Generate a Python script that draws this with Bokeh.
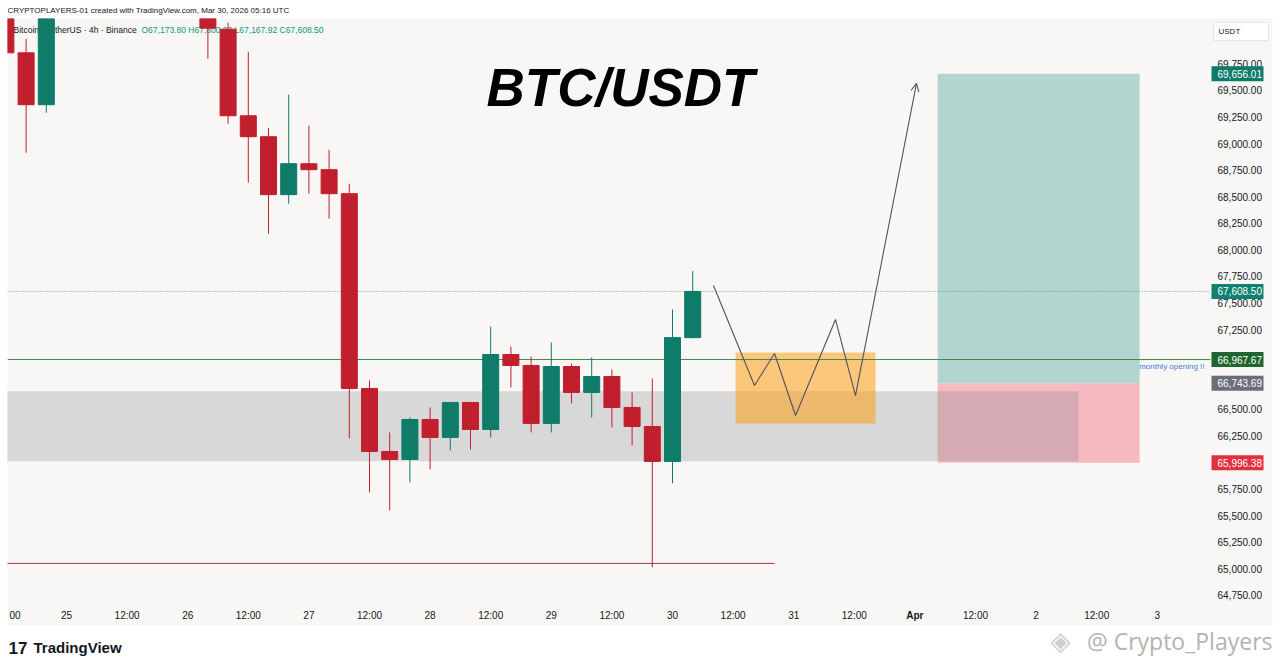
import pandas as pd
from bokeh.plotting import figure
from bokeh.models import ColumnDataSource, Label, Arrow, OpenHead
from bokeh.core.properties import value
from bokeh.layouts import column
from bokeh.embed import file_html
from bokeh.resources import INLINE

# ---------------- data ----------------
ORIGIN = pd.Timestamp("2026-03-24 00:00")

candle_time = [
    "2026-03-24 12:00", "2026-03-24 16:00", "2026-03-24 20:00",
    "2026-03-26 04:00", "2026-03-26 08:00", "2026-03-26 12:00", "2026-03-26 16:00",
    "2026-03-26 20:00", "2026-03-27 00:00", "2026-03-27 04:00", "2026-03-27 08:00",
    "2026-03-27 12:00", "2026-03-27 16:00", "2026-03-27 20:00", "2026-03-28 00:00",
    "2026-03-28 04:00", "2026-03-28 08:00", "2026-03-28 12:00", "2026-03-28 16:00",
    "2026-03-28 20:00", "2026-03-29 00:00", "2026-03-29 04:00", "2026-03-29 08:00",
    "2026-03-29 12:00", "2026-03-29 16:00", "2026-03-29 20:00", "2026-03-30 00:00",
    "2026-03-30 04:00",
]
open_ = [70350, 69853, 69365,
         70300, 70075, 69261, 69064,
         68519, 68810, 68754, 68528,
         66695, 66103, 66028, 66404,
         66235, 66564, 66310, 67015,
         66912, 66367, 66902, 66658,
         66808, 66517, 66338, 66009,
         67173.80]
high = [70420, 69985, 70400,
        70350, 70136, 69863, 69148,
        69459, 69167, 68942, 68622,
        66771, 66282, 66423, 66517,
        66570, 66570, 67278, 67090,
        66996, 67128, 66930, 66987,
        66874, 66658, 66789, 67438,
        67800]
low = [69840, 68914, 69290,
       69797, 69186, 68632, 68152,
       68434, 68528, 68293, 66226,
       65718, 65549, 65812, 65934,
       66113, 66122, 66235, 66705,
       66282, 66282, 66555, 66423,
       66329, 66160, 65013, 65803,
       67167.92]
close = [69853, 69365, 70300,
         70085, 69261, 69064, 68519,
         68810, 68754, 68528, 66695,
         66103, 66028, 66404, 66235,
         66564, 66310, 67015, 66912,
         66367, 66902, 66658, 66808,
         66517, 66338, 66009, 67174,
         67608.50]

last_price = 67608.50
monthly_open = 66967.67
support_level = 65050
support_end = "2026-03-30 20:12"

zone_low, zone_high = 66012, 66670
zone_start, zone_end = "2026-03-24 00:00", "2026-04-02 08:24"

box_low, box_high = 66367, 67034
box_start, box_end = "2026-03-30 12:30", "2026-03-31 16:12"

pos_target, pos_entry, pos_stop = 69656.01, 66743.69, 65996.38
pos_start, pos_end = "2026-04-01 04:30", "2026-04-02 20:30"

path_time = ["2026-03-30 08:07", "2026-03-30 16:14", "2026-03-30 20:12",
             "2026-03-31 00:22", "2026-03-31 08:17", "2026-03-31 12:14",
             "2026-04-01 00:19"]
path_price = [67664, 66723, 67025, 66441, 67344, 66629, 69565]

y_ticks = [64750, 65000, 65250, 65500, 65750, 66250, 66500,
           67250, 67500, 67750, 68000, 68250, 68500, 68750, 69000,
           69250, 69500, 69750]
x_tick_time = ["2026-03-25 00:00", "2026-03-25 12:00", "2026-03-26 00:00",
               "2026-03-26 12:00", "2026-03-27 00:00", "2026-03-27 12:00",
               "2026-03-28 00:00", "2026-03-28 12:00", "2026-03-29 00:00",
               "2026-03-29 12:00", "2026-03-30 00:00", "2026-03-30 12:00",
               "2026-03-31 00:00", "2026-03-31 12:00", "2026-04-01 00:00",
               "2026-04-01 12:00", "2026-04-02 00:00", "2026-04-02 12:00",
               "2026-04-03 00:00"]
x_tick_label = ["25", "12:00", "26", "12:00", "27", "12:00", "28", "12:00",
                "29", "12:00", "30", "12:00", "31", "12:00", "Apr", "12:00",
                "2", "12:00", "3"]
edge_tick_label = "00"          # remainder of the "12:00" label cut at the left edge

tag_price = [pos_target, last_price, monthly_open, pos_entry, pos_stop]
tag_text = ["69,656.01", "67,608.50", "66,967.67", "66,743.69", "65,996.38"]
tag_color = ["#0c7b69", "#0d8270", "#1e6630", "#6b6e79", "#e3303f"]

# ---------------- styling / helpers ----------------
BG = "#f8f7f5"
UP, DOWN = "#0e7c68", "#c11f2e"
TXT = "#131722"
FONT = "Liberation Sans"
FL, FT = 7, 18                    # frame left / top on the page
FW, FH = 1265, 607                # frame size (chart panel incl. scales)
PXH = 5.05                        # px per hour
H0 = 24 - (66 - FL) / PXH
H1 = H0 + FW / PXH
K = 0.1063                        # px per USDT
Y1 = 70176.0
Y0 = Y1 - FH / K


def hrs(ts):
    return (pd.Timestamp(ts) - ORIGIN).total_seconds() / 3600.0


def hx(px):       # page x pixel -> data x
    return H0 + (px - FL) / PXH


def py(pyx):      # page y pixel -> data y
    return Y1 - (pyx - FT) / K


# ---------------- main chart panel ----------------
p = figure(width=1280, height=FH, frame_width=FW, frame_height=FH,
           x_range=(H0, H1), y_range=(Y0, Y1), x_axis_type=None, y_axis_type=None,
           output_backend="svg", toolbar_location=None,
           min_border_left=FL, min_border_right=1280 - FL - FW, min_border_top=0,
           min_border_bottom=0, background_fill_color=BG,
           border_fill_color="white", outline_line_color=None)
p.grid.visible = False

# position tool
p.quad(left=hrs(pos_start), right=hrs(pos_end), bottom=pos_entry, top=pos_target,
       fill_color="#b3d5cf", line_color=None)
p.quad(left=hrs(pos_start), right=hrs(pos_end), bottom=pos_stop, top=pos_entry,
       fill_color="#f6bac0", line_color=None)
# grey zone
p.quad(left=hrs(zone_start), right=hrs(zone_end), bottom=zone_low, top=zone_high,
       fill_color="#787b86", fill_alpha=0.25, line_color=None)
# orange box
p.quad(left=hrs(box_start), right=hrs(box_end), bottom=box_low, top=box_high,
       fill_color="#ff9800", fill_alpha=0.5, line_color=None)
# support line
p.segment(x0=hrs(zone_start), x1=hrs(support_end), y0=support_level, y1=support_level,
          line_color="#a0384a", line_width=1)
# monthly opening + last price lines (stop at the price scale)
p.segment(x0=H0, x1=hx(1210), y0=monthly_open, y1=monthly_open,
          line_color="#3d8a47", line_width=1)
p.segment(x0=H0, x1=hx(1210), y0=last_price, y1=last_price,
          line_color="#0d8270", line_alpha=0.7, line_width=1, line_dash="1 2")

# projected path
ph = [hrs(t) for t in path_time]
p.line(ph, path_price, line_color="#50535e", line_width=1.1)
p.add_layout(Arrow(end=OpenHead(size=8, line_color="#50535e", line_width=1.1),
                   x_start=ph[-2], y_start=path_price[-2], x_end=ph[-1], y_end=path_price[-1],
                   line_alpha=0))

# candles
ct = [hrs(t) for t in candle_time]
src = ColumnDataSource(dict(
    x=ct, o=open_, h=high, l=low, c=close,
    top=[max(a, b) for a, b in zip(open_, close)],
    bot=[min(a, b) for a, b in zip(open_, close)],
    col=[UP if c >= o else DOWN for o, c in zip(open_, close)]))
p.segment(x0="x", x1="x", y0="l", y1="h", line_color="col", line_width=1, source=src)
p.vbar(x="x", width=16 / PXH, top="top", bottom="bot", fill_color="col",
       line_color="col", source=src)

# price scale labels
p.text(x=hx(1217), y=y_ticks, text=[f"{v:,.2f}" for v in y_ticks],
       text_font=value(FONT), text_font_size="10px", text_color=TXT,
       text_align="left", text_baseline="middle")
# price tags
p.rect(x=hx(1237), y=tag_price, width=52, height=15, width_units="screen",
       height_units="screen", fill_color=tag_color, line_color=None)
p.text(x=hx(1217), y=tag_price, text=tag_text, text_font=value(FONT),
       text_font_size="10px", text_color="white", text_align="left",
       text_baseline="middle")
# currency box
p.rect(x=hx(1240.5), y=py(31), width=55, height=18, width_units="screen",
       height_units="screen", fill_color="white", line_color="#e3e5ea")
p.text(x=hx(1218), y=py(31), text=["USDT"], text_font=value(FONT),
       text_font_size="8px", text_color=TXT, text_align="left", text_baseline="middle")

# time scale labels
xt = [hrs(t) for t in x_tick_time]
norm = [(h, t) for h, t in zip(xt, x_tick_label) if t != "Apr"]
bold = [(h, t) for h, t in zip(xt, x_tick_label) if t == "Apr"]
p.text(x=[h for h, _ in norm], y=py(614.5), text=[t for _, t in norm],
       text_font=value(FONT), text_font_size="10px", text_color=TXT,
       text_align="center", text_baseline="middle")
p.text(x=[h for h, _ in bold], y=py(614.5), text=[t for _, t in bold],
       text_font=value(FONT), text_font_style="bold", text_font_size="10px",
       text_color=TXT, text_align="center", text_baseline="middle")
p.text(x=[hx(9)], y=py(614.5), text=[edge_tick_label],
       text_font=value(FONT), text_font_size="10px", text_color=TXT,
       text_align="left", text_baseline="middle")

# legend texts (under candles)
p.add_layout(Label(x=hx(13), y=py(29), text="Bitcoin / TetherUS · 4h · Binance",
                   text_font=FONT, text_font_size="8.5px",
                   text_color=TXT, text_baseline="middle", level="underlay"))
p.add_layout(Label(x=hx(141), y=py(29),
                   text="O67,173.80 H67,800.00 L67,167.92 C67,608.50",
                   text_font=FONT, text_font_size="8.5px",
                   text_color="#089981", text_baseline="middle", level="underlay"))

p.add_layout(Label(x=hx(620), y=py(87), text="BTC/USDT", text_font=FONT,
                   text_font_style="bold italic", text_font_size="53px",
                   text_color="black", text_align="center", text_baseline="middle"))

p.add_layout(Label(x=hx(1204), y=py(366), text="monthly opening !!",
                   text_font=FONT, text_font_size="8px",
                   text_color="#4a78d4", text_align="right", text_baseline="middle"))


# ---------------- header / footer strips (same frame geometry as the panel) ----------------
def strip(h):
    f = figure(width=1280, height=h, frame_width=FW, frame_height=h,
               x_range=(FL, FL + FW), y_range=(0, h),
               x_axis_type=None, y_axis_type=None, output_backend="svg",
               toolbar_location=None, min_border_left=FL,
               min_border_right=1280 - FL - FW, min_border_top=0, min_border_bottom=0,
               background_fill_color="white", border_fill_color="white",
               outline_line_color=None)
    f.grid.visible = False
    return f


hdr = strip(FT)
hdr.add_layout(Label(x=7, y=8, text="CRYPTOPLAYERS-01 created with TradingView.com, Mar 30, 2026 05:16 UTC",
                     text_font=FONT, text_font_size="8px",
                     text_color=TXT, text_baseline="middle"))

FOOT = 668 - FT - FH
ftr = strip(FOOT)
ftr.add_layout(Label(x=8, y=21, text="17", text_font=FONT,
                     text_font_style="bold", text_font_size="17px", text_color=TXT,
                     text_baseline="middle"))
ftr.add_layout(Label(x=33, y=21, text="TradingView", text_font=FONT,
                     text_font_style="bold", text_font_size="15px", text_color=TXT,
                     text_baseline="middle"))
ftr.add_layout(Label(x=1060, y=28, text="◈", text_font="DejaVu Sans",
                     text_font_size="26px", text_color="#cfcfcf", text_align="center",
                     text_baseline="middle"))
ftr.add_layout(Label(x=1272, y=28, text="@ Crypto_Players", text_font="Open Sans",
                     text_font_size="23px", text_color="#b3b3b3", text_align="right",
                     text_baseline="middle"))

layout = column(hdr, p, ftr, spacing=0)
open("out.html", "w").write(file_html(layout, INLINE))
